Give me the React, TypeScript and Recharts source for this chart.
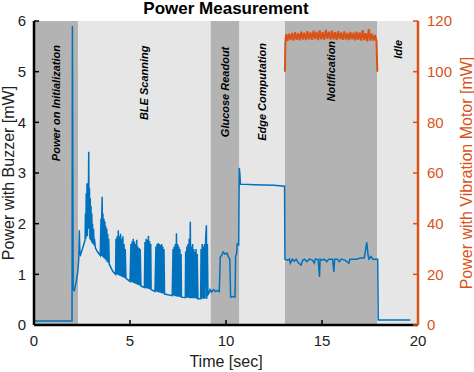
import React from "react";
import {
  LineChart,
  Line,
  XAxis,
  YAxis,
  ReferenceArea,
} from "recharts";

const xTicks = [0, 5, 10, 15, 20];
const buzzerTicks = [0, 1, 2, 3, 4, 5, 6];
const motorTicks = [0, 20, 40, 60, 80, 100, 120];

const phaseNames = [
  "Power on Initialization",
  "BLE Scanning",
  "Glucose Readout",
  "Edge Computation",
  "Notification",
  "Idle",
];
const phaseEdges = [0, 2.3, 9.2, 10.7, 13.07, 17.88, 20];

// [time s, power mW]
const initPower = [
  [0, 0.08], [1.98, 0.08], [2.0, 5.9], [2.04, 0.7], [2.1, 0.68], [2.2, 0.85],
  [2.28, 1.05], [2.33, 1.3], [2.36, 1.87], [2.39, 1.4], [2.42, 1.38],
];

const blePower = [
  [2.45, 1.42], [2.52, 1.5], [2.6, 1.6], [2.66, 1.68],
  [2.68, 2.2], [2.7, 1.7], [2.72, 2.6], [2.74, 1.75], [2.76, 2.8], [2.78, 1.75],
  [2.8, 2.4], [2.82, 1.9], [2.85, 3.42], [2.87, 1.9], [2.89, 2.7], [2.91, 1.7],
  [2.93, 2.5], [2.95, 1.68], [2.97, 2.35], [2.99, 1.65], [3.01, 2.2], [3.03, 1.62],
  [3.05, 2.0], [3.07, 1.6], [3.1, 1.9], [3.13, 1.57], [3.15, 1.7], [3.2, 1.52],
  [3.3, 1.45], [3.45, 1.37],
  [3.49, 2.1], [3.51, 1.36], [3.53, 2.2], [3.55, 2.53], [3.57, 1.35], [3.59, 2.2],
  [3.61, 1.33], [3.64, 2.1], [3.66, 1.32], [3.69, 2.05], [3.71, 1.3], [3.74, 1.95],
  [3.76, 1.28], [3.79, 1.9], [3.81, 1.25], [3.84, 1.8], [3.86, 1.23], [3.89, 1.7],
  [3.92, 1.2],
  [4.1, 1.06], [4.25, 1.0],
  [4.27, 1.7], [4.3, 1.0], [4.33, 1.75], [4.36, 0.99], [4.39, 1.87], [4.42, 0.98],
  [4.45, 1.75], [4.48, 0.97], [4.51, 1.8], [4.54, 0.96], [4.57, 1.7], [4.6, 0.95],
  [4.63, 1.75], [4.66, 0.94], [4.69, 1.6], [4.72, 0.93], [4.75, 1.5], [4.79, 0.92],
  [5.0, 0.86],
  [5.05, 1.6], [5.08, 0.85], [5.11, 1.65], [5.14, 0.84], [5.17, 1.7], [5.2, 0.83],
  [5.23, 1.65], [5.26, 0.82], [5.29, 1.6], [5.32, 0.81], [5.35, 1.68], [5.38, 0.8],
  [5.41, 1.55], [5.44, 0.79], [5.47, 1.52], [5.5, 0.78], [5.53, 1.5], [5.57, 0.77],
  [5.75, 0.74],
  [5.78, 1.64], [5.81, 0.73], [5.84, 1.7], [5.87, 0.72], [5.9, 1.68], [5.93, 0.72],
  [5.96, 1.76], [5.99, 0.71], [6.02, 1.66], [6.05, 0.7], [6.08, 1.6], [6.1, 0.7],
  [6.3, 0.66],
  [6.35, 1.55], [6.38, 0.66], [6.41, 1.6], [6.44, 0.65], [6.47, 1.62], [6.5, 0.64],
  [6.53, 1.6], [6.56, 0.64], [6.59, 1.58], [6.62, 0.63], [6.65, 1.6], [6.68, 0.62],
  [6.71, 1.55], [6.74, 0.62], [6.77, 1.5], [6.8, 0.61],
  [7.2, 0.58],
  [7.24, 1.5], [7.27, 0.58], [7.3, 1.55], [7.33, 0.57], [7.36, 1.6], [7.39, 0.57],
  [7.42, 1.81], [7.45, 0.56], [7.48, 1.6], [7.51, 0.56], [7.54, 1.55], [7.57, 0.56],
  [7.6, 1.5], [7.63, 0.55], [7.66, 1.4], [7.68, 0.55],
  [7.88, 0.54],
  [7.9, 1.45], [7.93, 0.54], [7.96, 1.55], [7.99, 0.54], [8.02, 1.6], [8.05, 0.54],
  [8.08, 1.7], [8.11, 0.53], [8.14, 2.04], [8.17, 0.53], [8.2, 1.55], [8.23, 0.53],
  [8.26, 1.6], [8.29, 0.53], [8.32, 1.5], [8.35, 0.53], [8.38, 1.45], [8.41, 0.53],
  [8.44, 1.5], [8.47, 0.52], [8.5, 1.4], [8.54, 0.52],
  [8.68, 0.52],
  [8.7, 1.5], [8.73, 0.52], [8.76, 1.6], [8.79, 0.52], [8.82, 1.55], [8.85, 0.52],
  [8.88, 1.6], [8.91, 0.52], [8.94, 1.7], [8.98, 1.97], [9.0, 0.52], [9.03, 1.6],
  [9.06, 0.6],
];

const glucosePower = [
  [9.1, 0.62], [9.17, 0.7], [9.25, 0.65], [9.35, 0.7], [9.45, 0.66], [9.55, 0.68],
  [9.65, 0.66], [9.7, 1.34], [9.78, 1.38], [9.85, 1.44], [9.95, 1.4], [10.05, 1.42],
  [10.12, 1.35], [10.2, 1.3], [10.24, 0.55], [10.35, 0.56], [10.47, 0.55],
  [10.5, 1.36], [10.55, 1.4], [10.58, 1.6], [10.66, 1.58], [10.69, 3.1],
  [10.72, 3.0], [10.75, 2.78],
];

const edgePower = [[11.5, 2.77], [12.5, 2.76], [13.05, 2.74]];

const notifyPower = [
  [13.07, 1.3], [13.2, 1.28], [13.3, 1.3], [13.35, 1.22], [13.45, 1.3], [13.55, 1.26],
  [13.65, 1.3], [13.75, 1.24], [13.91, 1.18], [14.0, 1.28], [14.1, 1.3], [14.2, 1.25],
  [14.35, 1.3], [14.5, 1.28], [14.6, 1.22], [14.65, 1.3], [14.8, 1.29], [14.87, 0.95],
  [14.9, 1.3], [15.0, 1.28], [15.1, 1.3], [15.25, 1.25], [15.35, 1.3], [15.55, 1.3],
  [15.62, 1.05], [15.66, 1.3], [15.8, 1.3], [15.9, 1.25], [16.0, 1.3], [16.2, 1.28],
  [16.4, 1.22], [16.45, 1.3], [16.6, 1.3], [16.8, 1.3], [17.0, 1.32], [17.2, 1.32],
  [17.33, 1.63], [17.4, 1.38], [17.45, 1.3], [17.55, 1.35], [17.65, 1.3], [17.9, 1.3],
  [17.93, 0.1],
];

const idlePower = [[18.2, 0.1], [19.6, 0.1]];

const vibrationPower = [
  [13.07, 100], [13.09, 111], [13.13, 114.8], [13.2, 112.2], [13.28, 115], [13.36, 112.5],
  [13.44, 115.3], [13.52, 112.3], [13.6, 115.6], [13.68, 112.6], [13.76, 115.2],
  [13.84, 112.4], [13.92, 115.8], [14.0, 112.7], [14.08, 115.4], [14.16, 112.5],
  [14.24, 116.0], [14.32, 112.8], [14.4, 115.5], [14.48, 112.6], [14.56, 116.2],
  [14.64, 112.9], [14.72, 115.7], [14.8, 112.5], [14.88, 116.3], [14.96, 112.8],
  [15.04, 115.6], [15.12, 112.6], [15.2, 116.5], [15.28, 113.0], [15.36, 115.8],
  [15.44, 112.7], [15.52, 116.2], [15.6, 112.8], [15.68, 115.6], [15.76, 112.5],
  [15.84, 116.0], [15.92, 112.9], [16.0, 115.5], [16.08, 112.6], [16.16, 115.9],
  [16.24, 112.7], [16.32, 115.3], [16.4, 112.5], [16.48, 115.7], [16.56, 112.8],
  [16.64, 115.4], [16.72, 112.4], [16.8, 115.8], [16.88, 112.6], [16.96, 115.5],
  [17.04, 112.3], [17.12, 116.4], [17.2, 112.5], [17.28, 115.2], [17.36, 112.0],
  [17.44, 116.8], [17.52, 112.3], [17.6, 115.0], [17.68, 112.2], [17.76, 114.5],
  [17.84, 112.0], [17.88, 100],
];

// vertical centre of each phase label, in buzzer-axis units
const labelLevels = [4.38, 4.78, 4.6, 4.6, 5.01, 5.44];

const buzzerData = [
  ...initPower,
  ...blePower,
  ...glucosePower,
  ...edgePower,
  ...notifyPower,
  ...idlePower,
].map(([t, p]) => ({ t, p }));

const motorData = vibrationPower.map(([t, p]) => ({ t, p }));

const BLUE = "#0072BD";
const ORANGE = "#D95319";
const DARK = "#b3b3b3";
const LIGHT = "#e6e6e6";

function phaseLabel(text: string, level: number) {
  return (props: any) => {
    const vb = props.viewBox || {};
    const cx = vb.x + vb.width / 2;
    const cy = vb.y + vb.height * (1 - level / 6);
    return (
      <text
        x={cx}
        y={cy}
        transform={`rotate(-90 ${cx} ${cy})`}
        textAnchor="middle"
        dominantBaseline="central"
        fontSize={11}
        fontWeight="bold"
        fontStyle="italic"
        fill="#000"
      >
        {text}
      </text>
    );
  };
}

export default function App() {
  return (
    <div
      style={{
        position: "absolute",
        left: 0,
        top: 0,
        width: 474,
        height: 372,
        background: "#fff",
        fontFamily: "'Liberation Sans', Arial, sans-serif",
      }}
    >
      <div
        style={{
          position: "absolute",
          left: 0,
          top: 0,
          width: 452,
          textAlign: "center",
          fontSize: 17,
          lineHeight: "17px",
          fontWeight: "bold",
          color: "#000",
        }}
      >
        Power Measurement
      </div>
      <LineChart
        width={474}
        height={372}
        margin={{ top: 21, right: 0, bottom: 0, left: 0 }}
      >
        <XAxis
          dataKey="t"
          type="number"
          domain={[0, 20]}
          ticks={xTicks}
          height={47}
          allowDataOverflow
          tickSize={-5}
          tickMargin={15}
          tick={{ fontSize: 15, fill: "#222" }}
          axisLine={{ stroke: "#000", strokeWidth: 2.5 }}
          tickLine={{ stroke: "#000", strokeWidth: 1.5 }}
          label={{
            value: "Time [sec]",
            position: "insideBottom",
            offset: 5,
            style: { fontSize: 16, fill: "#222" },
          }}
        />
        <XAxis
          xAxisId="top"
          orientation="top"
          dataKey="t"
          type="number"
          domain={[0, 20]}
          ticks={xTicks}
          height={0}
          allowDataOverflow
          tickSize={-5}
          tickFormatter={() => ""}
          axisLine={{ stroke: "#000", strokeWidth: 1.5 }}
          tickLine={{ stroke: "#000", strokeWidth: 1.5 }}
        />
        <YAxis
          yAxisId="left"
          domain={[0, 6]}
          ticks={buzzerTicks}
          width={34}
          allowDataOverflow
          tickSize={-5}
          tickMargin={13}
          tick={{ fontSize: 15, fill: "#222" }}
          axisLine={{ stroke: "#000", strokeWidth: 2.5 }}
          tickLine={{ stroke: "#000", strokeWidth: 1.5 }}
          label={{
            value: "Power with Buzzer [mW]",
            angle: -90,
            position: "insideLeft",
            offset: 8,
            style: { fontSize: 16, fill: "#222", textAnchor: "middle" },
          }}
        />
        <YAxis
          yAxisId="right"
          orientation="right"
          domain={[0, 120]}
          ticks={motorTicks}
          width={56}
          allowDataOverflow
          tickSize={-5}
          tickMargin={14}
          tick={{ fontSize: 15, fill: ORANGE }}
          axisLine={{ stroke: ORANGE, strokeWidth: 2.5 }}
          tickLine={{ stroke: ORANGE, strokeWidth: 1.5 }}
          label={{
            value: "Power with Vibration Motor [mW]",
            angle: -90,
            position: "insideRight",
            offset: 8,
            style: { fontSize: 16, fill: ORANGE, textAnchor: "middle" },
          }}
        />
        {phaseNames.map((name, i) => (
          <ReferenceArea
            key={name}
            yAxisId="left"
            x1={phaseEdges[i]}
            x2={phaseEdges[i + 1]}
            y1={0}
            y2={6}
            fill={i % 2 === 0 ? DARK : LIGHT}
            fillOpacity={1}
            stroke="none"
            label={phaseLabel(name, labelLevels[i])}
          />
        ))}
        <Line
          yAxisId="left"
          data={buzzerData}
          dataKey="p"
          type="linear"
          stroke={BLUE}
          strokeWidth={1.5}
          dot={false}
          isAnimationActive={false}
        />
        <Line
          yAxisId="right"
          data={motorData}
          dataKey="p"
          type="linear"
          stroke={ORANGE}
          strokeWidth={2}
          dot={false}
          isAnimationActive={false}
        />
      </LineChart>
    </div>
  );
}
